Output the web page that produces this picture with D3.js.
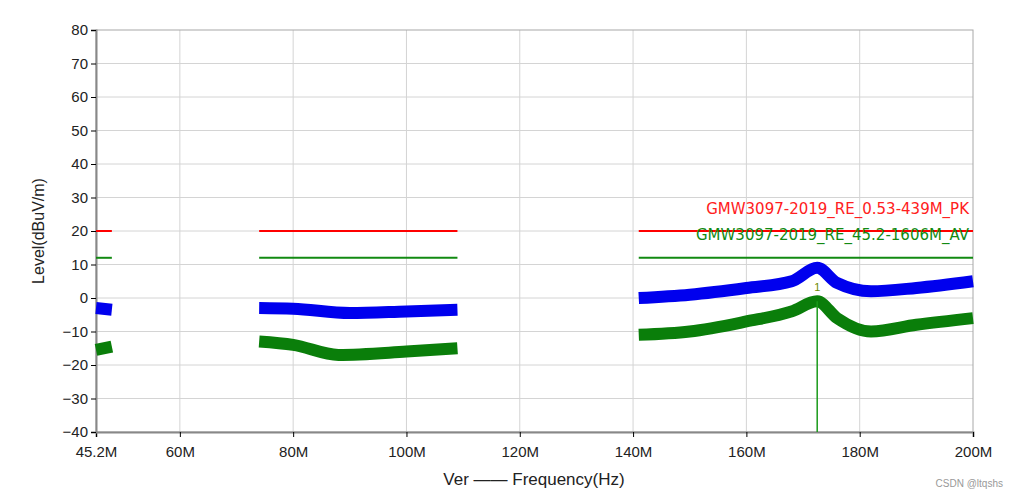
<!DOCTYPE html>
<html>
<head>
<meta charset="utf-8"/>
<script src="https://d3js.org/d3.v7.min.js"></script>
<style>body{margin:0;background:#fff}text{font-family:"Liberation Sans",sans-serif}</style>
</head>
<body>
<script>
// tick labels
var xTicks = [45.2, 60, 80, 100, 120, 140, 160, 180, 200];
var yTicks = [-40, -30, -20, -10, 0, 10, 20, 30, 40, 50, 60, 70, 80];
// measurement bands (MHz -> dBuV/m), smoothed centre of the noisy trace
var segments = [[45.2, 48], [74, 109], [141, 200]];
var peakTrace = [
  [[45.2, -3], [48, -3.5]],
  [[74, -3], [80, -3.2], [90, -4.5], [100, -4], [109, -3.5]],
  [[141, 0], [150, 1], [160, 3], [168, 5], [172.5, 9], [176, 4.5], [182, 2], [190, 3], [200, 5]]
];
var avTrace = [
  [[45.2, -15.5], [48, -14.5]],
  [[74, -13], [80, -14], [88, -17], [100, -16], [109, -15]],
  [[141, -11], [150, -10], [160, -7], [168, -4], [172.5, -1], [176, -6], [182, -10], [190, -8], [200, -6]]
];
var pkLimit = 20, avLimit = 12;
var marker = {f: 172.5, v: -1};

var W = 1009, H = 498, m = {l: 96, t: 30, r: 36, b: 66};
var svg = d3.select("body").append("svg").attr("width", W).attr("height", H);
var x = d3.scaleLinear().domain([45.2, 200]).range([m.l, W - m.r]);
var y = d3.scaleLinear().domain([-40, 80]).range([H - m.b, m.t]);

// grid
svg.append("g").selectAll("line").data(xTicks.slice(1, -1)).enter().append("line")
  .attr("x1", d => x(d)).attr("x2", d => x(d)).attr("y1", y(80)).attr("y2", y(-40))
  .attr("stroke", "#d4d4d4");
svg.append("g").selectAll("line").data(yTicks.slice(1, -1)).enter().append("line")
  .attr("x1", x(45.2)).attr("x2", x(200)).attr("y1", d => y(d)).attr("y2", d => y(d))
  .attr("stroke", "#d4d4d4");
svg.append("rect").attr("x", m.l).attr("y", m.t).attr("width", x(200) - m.l).attr("height", y(-40) - m.t)
  .attr("fill", "none").attr("stroke", "#a8a8a8");

var xa = svg.append("g").attr("transform", "translate(0," + y(-40) + ")")
  .call(d3.axisBottom(x).tickValues(xTicks).tickFormat(d => d + "M").tickSize(5));
var ya = svg.append("g").attr("transform", "translate(" + m.l + ",0)")
  .call(d3.axisLeft(y).tickValues(yTicks).tickSize(5));
[xa, ya].forEach(a => {
  a.select(".domain").attr("stroke", "#888").attr("stroke-width", 2);
  a.selectAll("text").attr("font-size", 15).attr("fill", "#222");
});
xa.selectAll("text").attr("dy", "1.1em");

var line = d3.line().x(d => x(d[0])).y(d => y(d[1])).curve(d3.curveMonotoneX);
// limits
segments.forEach(s => {
  svg.append("line").attr("x1", x(s[0])).attr("x2", x(s[1])).attr("y1", y(pkLimit)).attr("y2", y(pkLimit))
    .attr("stroke", "#ff0000").attr("stroke-width", 2);
  svg.append("line").attr("x1", x(s[0])).attr("x2", x(s[1])).attr("y1", y(avLimit)).attr("y2", y(avLimit))
    .attr("stroke", "#128a12").attr("stroke-width", 2);
});
// traces
peakTrace.forEach(t => svg.append("path").attr("d", line(t)).attr("fill", "none")
  .attr("stroke", "#0000ee").attr("stroke-width", 12));
avTrace.forEach(t => svg.append("path").attr("d", line(t)).attr("fill", "none")
  .attr("stroke", "#0a7e0a").attr("stroke-width", 12));

// marker
svg.append("line").attr("x1", x(marker.f)).attr("x2", x(marker.f)).attr("y1", y(marker.v)).attr("y2", y(-40))
  .attr("stroke", "#1a9a1a").attr("stroke-width", 1.5);
svg.append("text").attr("x", x(marker.f)).attr("y", y(marker.v) - 10).attr("text-anchor", "middle")
  .attr("font-size", 11).attr("fill", "#6a8a00").text("1");

// legend texts
svg.append("text").attr("x", 969).attr("y", 214).attr("text-anchor", "end").attr("font-size", 15)
  .style("font-family", "DejaVu Sans").attr("fill", "#ff2020").text("GMW3097-2019_RE_0.53-439M_PK");
svg.append("text").attr("x", 969).attr("y", 240).attr("text-anchor", "end").attr("font-size", 15)
  .style("font-family", "DejaVu Sans").attr("fill", "#128a12").text("GMW3097-2019_RE_45.2-1606M_AV");

// axis titles
svg.append("text").attr("transform", "translate(44," + y(20) + ") rotate(-90)").attr("text-anchor", "middle")
  .attr("font-size", 16).attr("fill", "#222").text("Level(dBuV/m)");
svg.append("text").attr("x", 534).attr("y", 485).attr("text-anchor", "middle")
  .attr("font-size", 17).attr("fill", "#222").text("Ver —— Frequency(Hz)");
svg.append("text").attr("x", 1003).attr("y", 487).attr("text-anchor", "end")
  .attr("font-size", 10).attr("fill", "#999").text("CSDN @ltqshs");
</script>
</body>
</html>
